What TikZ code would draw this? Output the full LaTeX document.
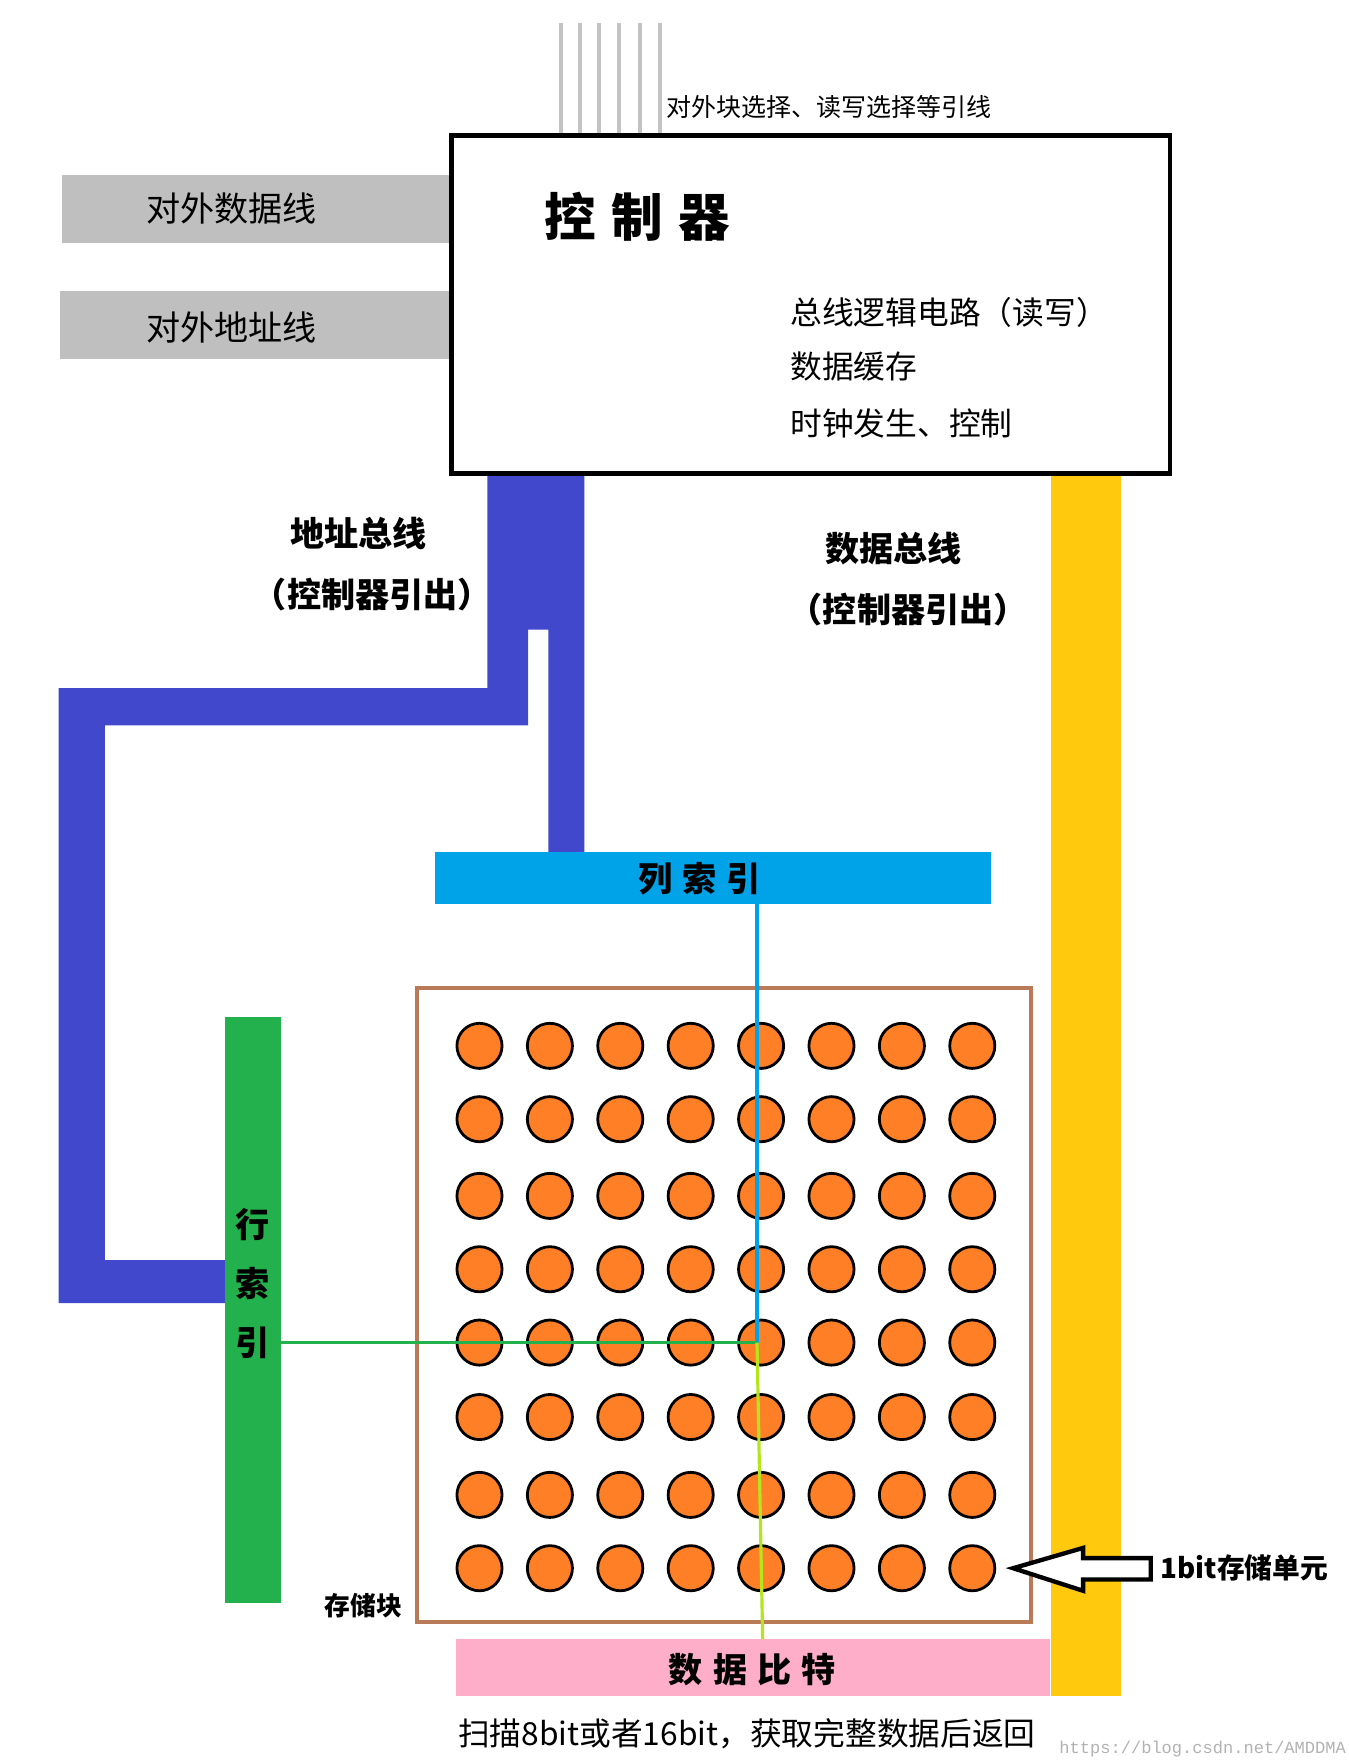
\documentclass[tikz,border=0pt]{standalone}
\usepackage{fontspec}
\setmainfont{Noto Sans CJK SC}
\newfontfamily\monofont{Liberation Mono}
\usetikzlibrary{positioning}
\definecolor{addrblue}{RGB}{65,72,204}
\definecolor{busyellow}{RGB}{255,201,14}
\definecolor{colblue}{RGB}{0,162,232}
\definecolor{rowgreen}{RGB}{34,177,76}
\definecolor{cellorange}{RGB}{255,127,39}
\definecolor{blockbrown}{RGB}{185,122,87}
\definecolor{bitpink}{RGB}{255,174,201}
\definecolor{limeline}{RGB}{181,230,29}
\definecolor{pinlead}{RGB}{195,195,195}
\newcommand{\gap}{\hspace{0.3em}}
\tikzset{
  txt/.style={inner sep=0pt, font=\fontsize{8}{10}\selectfont},
  boldtxt/.style={inner sep=0pt, font=\fontsize{8.6}{10}\selectfont\bfseries},
  cell/.style={circle, draw=black, line width=0.7pt, fill=cellorange, minimum size=4mm, inner sep=0pt},
}
\begin{document}
\begin{tikzpicture}[x=0.1mm, y=-0.1mm]
    \useasboundingbox[fill=white] (0,0) rectangle (1195,1560);
    % buses
    \fill[addrblue] (432,420) -- (518,420) -- (518,755) -- (486,755) -- (486,558) -- (468,558)
        -- (468,643) -- (93,643) -- (93,1117) -- (200,1117) -- (200,1155) -- (52,1155)
        -- (52,610) -- (432,610) -- cycle;
    \fill[busyellow] (932,420) rectangle (994,1503);
    % leads
    \foreach \x in {497,514,531,549,567,585}
        \draw[pinlead, line width=1pt] (\x,20) -- (\x,120);
    \node[txt, anchor=west, font=\fontsize{6.3}{8}\selectfont] (leads) at (590,95) {对外块选择、读写选择等引线};
    % controller
    \draw[line width=1.2pt] (400,120) rectangle (1037,420);
    \node[inner sep=0pt, font=\fontsize{13}{15}\selectfont\bfseries] (ctrl) at (565,192) {控\gap 制\gap 器};
    \node[txt, anchor=west] (ctrla) at (700,277) {总线逻辑电路（读写）};
    \node[txt, anchor=west] (ctrlb) at (700,325) {数据缓存};
    \node[txt, anchor=west] (ctrlc) at (700,375) {时钟发生、控制};
    \fill[black!25] (55,155) rectangle (398,215);
    \node[txt, font=\fontsize{8.6}{10}\selectfont] (dline) at (205,185) {对外数据线};
    \fill[black!25] (53,258) rectangle (398,318);
    \node[txt, font=\fontsize{8.6}{10}\selectfont] (aline) at (205,290) {对外地址线};
    \node[boldtxt] (abus) at (318,473) {地址总线};
    \node[boldtxt] (abus2) at (330,527) {（控制器引出）};
    \node[boldtxt] (dbus) at (792,486) {数据总线};
    \node[boldtxt] (dbus2) at (805,540) {（控制器引出）};
    % indexes
    \fill[colblue] (386,755) rectangle (878,801);
    \node[boldtxt] (colidx) at (620,779) {列\gap 索\gap 引};
    \fill[rowgreen] (199,901) rectangle (249,1421);
    \node[boldtxt] (rowa) at (224,1085) {行};
    \node[boldtxt] (rowb) at (224,1138) {索};
    \node[boldtxt] (rowc) at (224,1190) {引};
    % memory block
    \draw[blockbrown, line width=1pt] (370,876) rectangle (914,1438);
    \foreach \r/\y in {0/927,1/992,2/1060,3/1125,4/1190,5/1256,6/1325,7/1390}
        \foreach \c in {0,...,7}
            \node[cell] (c\r\c) at ({425+62.4*\c},\y) {};
    \node[boldtxt, font=\fontsize{6.5}{8}\selectfont\bfseries] (blk) at (322,1423) {存储块};
    \fill[bitpink] (404,1453) rectangle (931,1503);
    \node[boldtxt] (bits) at (667,1480) {数\gap 据\gap 比\gap 特};
    % selection lines
    \coordinate (hit) at (671,1190);
    \draw[colblue, line width=0.8pt] (671,801) -- (hit);
    \draw[rowgreen, line width=0.8pt] (249,1190) -- (hit);
    \draw[limeline, line width=0.8pt] (hit) -- (676,1453);
    % bit cell pointer
    \draw[line width=1.1pt, fill=white] (898,1390) -- (960,1372) -- (960,1381) -- (1020,1381)
        -- (1020,1400) -- (960,1400) -- (960,1410) -- cycle;
    \node[boldtxt, font=\fontsize{7}{8}\selectfont\bfseries] (onebit) at (1103,1390) {1bit存储单元};
    \node[txt] (scan) at (662,1537) {扫描8bit或者16bit，获取完整数据后返回};
    \node[inner sep=0pt, text=black!30, font=\monofont\fontsize{4.3}{5}\selectfont] (wm) at (1066,1550) {https://blog.csdn.net/AMDDMA};
\end{tikzpicture}
\end{document}
